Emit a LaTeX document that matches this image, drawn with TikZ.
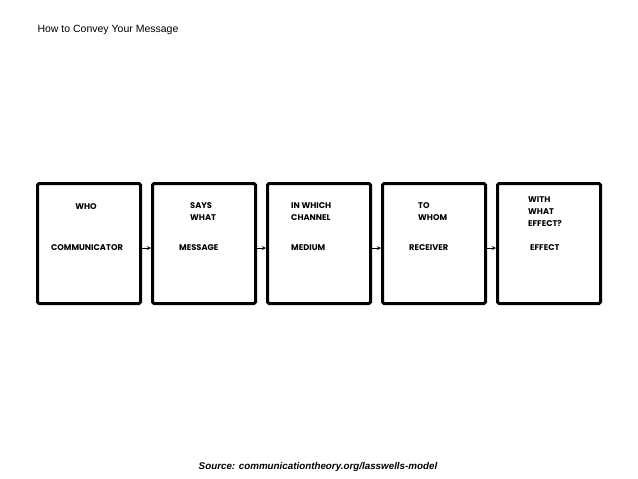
\documentclass[tikz,border=0pt]{standalone}
\usepackage{fontspec}
\setmainfont{Liberation Sans}
\newfontfamily\boxfont{Poppins}
\begin{document}
\begin{tikzpicture}[x=1pt,y=-1pt,
  box/.style={draw,line width=3pt,rounded corners=1.5pt,minimum width=103pt,minimum height=120pt,anchor=north west,inner sep=0},
  lbl/.style={font=\boxfont\bfseries\fontsize{8.3}{12}\selectfont,align=left,anchor=west,inner sep=0},
  conn/.style={->,>=stealth,line width=0.8pt}]
\useasboundingbox (0,0) rectangle (638,479);
\node[anchor=west,font=\fontsize{10.5}{12}\selectfont] (title) at (34,30) {How to Convey Your Message};
\node[box] (b1) at (36,182) {};
\node[box] (b2) at (151,182) {};
\node[box] (b3) at (266,182) {};
\node[box] (b4) at (381,182) {};
\node[box] (b5) at (496,182) {};
\node[lbl,anchor=center] (t1) at (86,207) {WHO};
\node[lbl] (t2) at (190,212) {SAYS\\WHAT};
\node[lbl] (t3) at (291,212) {IN WHICH\\CHANNEL};
\node[lbl] (t4) at (418,212) {TO\\WHOM};
\node[lbl] (t5) at (528,212) {WITH\\WHAT\\EFFECT?};
\node[lbl,anchor=center] (m1) at (87,248) {COMMUNICATOR};
\node[lbl] (m2) at (179,248) {MESSAGE};
\node[lbl] (m3) at (291,248) {MEDIUM};
\node[lbl] (m4) at (409,248) {RECEIVER};
\node[lbl] (m5) at (530,248) {EFFECT};
\foreach \a/\b in {b1/b2,b2/b3,b3/b4,b4/b5}
  \draw[conn] ([yshift=-66pt]\a.north east) -- ([yshift=-66pt]\b.north west);
\node[font=\bfseries\itshape\fontsize{9.8}{12}\selectfont] (src) at (318,467) {Source: communicationtheory.org/lasswells-model};
\end{tikzpicture}
\end{document}
